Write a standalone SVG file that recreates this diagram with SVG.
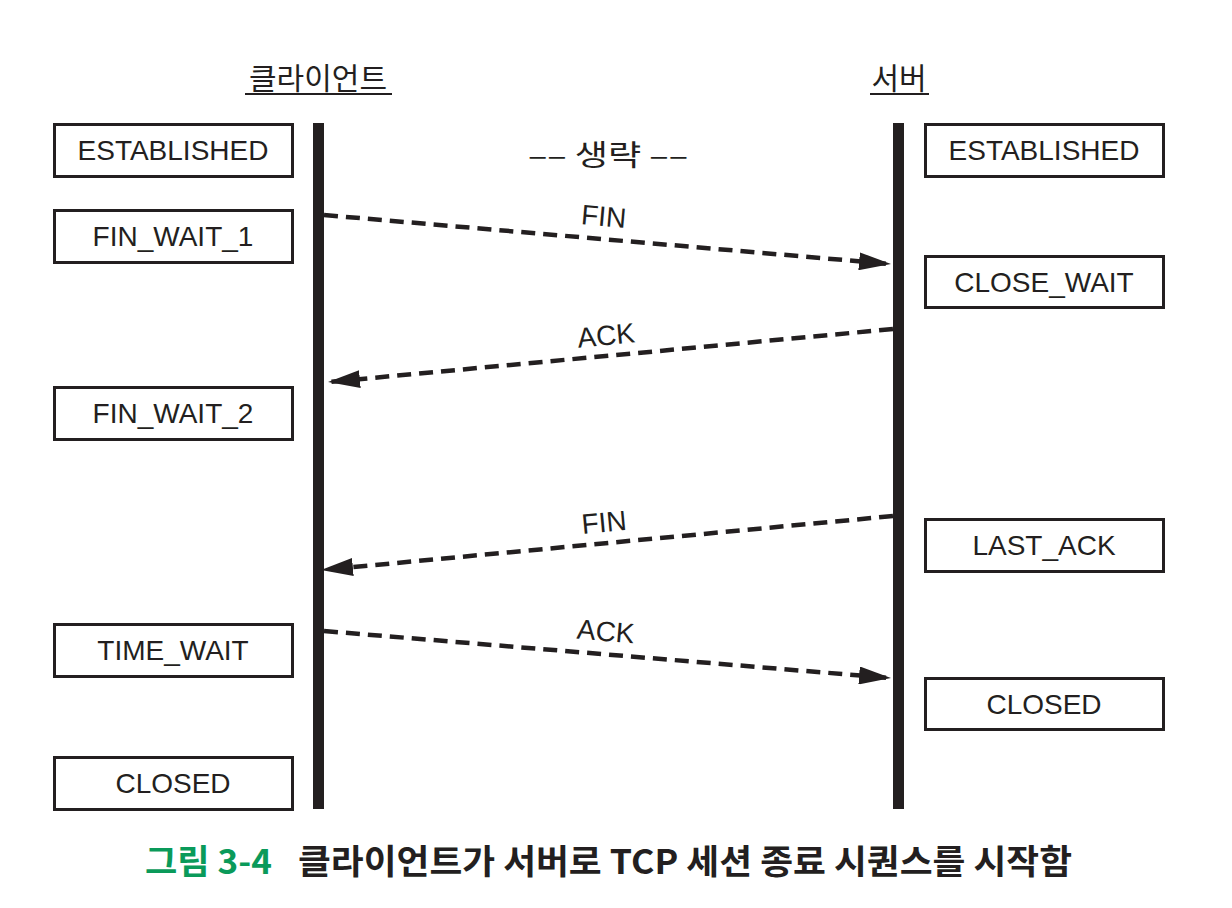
<svg xmlns="http://www.w3.org/2000/svg" width="1232" height="908" viewBox="0 0 1232 908">
<style>
.box{fill:#fff;stroke:#231f20;stroke-width:3}
.bt{font-family:"Liberation Sans","Noto Sans CJK KR",sans-serif;font-size:28px;fill:#231f20;text-anchor:middle}
.life{fill:#231f20}
.msg{stroke:#231f20;stroke-width:4.5;stroke-dasharray:14 8;fill:none}
.ml{font-family:"Liberation Sans","Noto Sans CJK KR",sans-serif;font-size:28px;fill:#231f20;text-anchor:middle}
.hd{font-family:"Noto Sans CJK KR",sans-serif;font-size:30px;fill:#231f20;text-anchor:middle}
.om{font-family:"Noto Sans CJK KR",sans-serif;font-size:29px;fill:#231f20}
.cap{font-family:"Noto Sans CJK KR",sans-serif;font-size:34px;font-weight:bold}
</style>
<defs>
<marker id="ah2" markerWidth="32" markerHeight="18" refX="31" refY="9" orient="auto" markerUnits="userSpaceOnUse" viewBox="0 0 32 18">
<path d="M0,0 L32,9 L0,18 z" fill="#231f20"/>
</marker>
</defs>
<rect width="1232" height="908" fill="#fff"/>
<g id="header-client">
<text class="hd" x="318" y="89">클라이언트</text>
<line x1="245" y1="94" x2="392" y2="94" stroke="#231f20" stroke-width="2"/>
</g>
<g id="header-server">
<text class="hd" x="899" y="89">서버</text>
<line x1="870" y1="94" x2="929" y2="94" stroke="#231f20" stroke-width="2"/>
</g>
<g id="lifelines">
<rect class="life" x="313" y="123" width="11" height="686"/>
<rect class="life" x="893" y="123" width="11" height="686"/>
</g>
<g id="omitted">
<text class="om" x="528" y="166" textLength="160" lengthAdjust="spacingAndGlyphs">–– 생략 ––</text>
</g>
<g id="c-established"><rect class="box" x="54.5" y="124.5" width="238" height="52"/><text class="bt" x="173" y="160">ESTABLISHED</text></g>
<g id="c-fin-wait-1"><rect class="box" x="54.5" y="210.5" width="238" height="52"/><text class="bt" x="173" y="246">FIN_WAIT_1</text></g>
<g id="c-fin-wait-2"><rect class="box" x="54.5" y="387.5" width="238" height="52"/><text class="bt" x="173" y="423">FIN_WAIT_2</text></g>
<g id="c-time-wait"><rect class="box" x="54.5" y="624.5" width="238" height="52"/><text class="bt" x="173" y="660">TIME_WAIT</text></g>
<g id="c-closed"><rect class="box" x="54.5" y="757.5" width="238" height="52"/><text class="bt" x="173" y="793">CLOSED</text></g>
<g id="s-established"><rect class="box" x="925.5" y="124.5" width="238" height="52"/><text class="bt" x="1044" y="160">ESTABLISHED</text></g>
<g id="s-close-wait"><rect class="box" x="925.5" y="256.5" width="238" height="51"/><text class="bt" x="1044" y="292">CLOSE_WAIT</text></g>
<g id="s-last-ack"><rect class="box" x="925.5" y="519.5" width="238" height="52"/><text class="bt" x="1044" y="555">LAST_ACK</text></g>
<g id="s-closed"><rect class="box" x="925.5" y="678.5" width="238" height="51"/><text class="bt" x="1044" y="714">CLOSED</text></g>
<g id="connectors">
<line class="msg" x1="324" y1="215" x2="890" y2="264" marker-end="url(#ah2)"/>
<line class="msg" x1="893" y1="329" x2="329" y2="382" marker-end="url(#ah2)"/>
<line class="msg" x1="893" y1="516" x2="322" y2="570" marker-end="url(#ah2)"/>
<line class="msg" x1="324" y1="631" x2="890" y2="678" marker-end="url(#ah2)"/>
<text class="ml" transform="translate(603,226) rotate(5)">FIN</text>
<text class="ml" transform="translate(607,345) rotate(-5.4)">ACK</text>
<text class="ml" transform="translate(605,532) rotate(-5.4)">FIN</text>
<text class="ml" transform="translate(605,641) rotate(4.8)">ACK</text>
</g>
<g id="caption">
<text class="cap" x="145" y="874" fill="#0a9a5a" textLength="127" lengthAdjust="spacingAndGlyphs">그림 3-4</text>
<text class="cap" x="298" y="874" fill="#231f20" textLength="774" lengthAdjust="spacingAndGlyphs">클라이언트가 서버로 TCP 세션 종료 시퀀스를 시작함</text>
</g>
</svg>
